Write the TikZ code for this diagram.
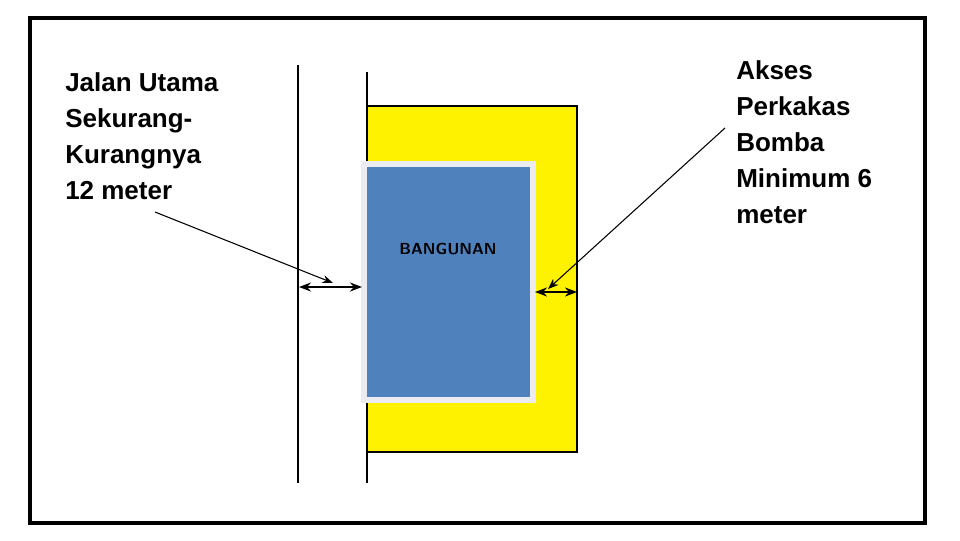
\documentclass[tikz,border=0pt]{standalone}
\usepackage{fontspec}
\setmainfont{Liberation Sans}
\usetikzlibrary{arrows.meta}
\begin{document}
\begin{tikzpicture}[x=0.75pt,y=-0.75pt,
  lbl/.style={font=\bfseries\fontsize{19.5}{27}\selectfont,align=left,inner sep=0pt},
  dim/.style={{Stealth[length=9pt]}-{Stealth[length=9pt]},line width=1.5pt},
  lead/.style={-{Stealth[length=8pt]},line width=0.8pt}]
\useasboundingbox (0,0) rectangle (960,540);
\fill[white] (0,0) rectangle (960,540);
\draw[line width=3.5pt] (30,18) rectangle (925,523);
\draw[fill=yellow,line width=1pt] (367,106) rectangle (577,452);
\draw[line width=1pt] (298,65) -- (298,483);
\draw[line width=1pt] (367,72) -- (367,483);
\draw[fill={rgb,255:red,79;green,129;blue,189},draw={rgb,255:red,235;green,235;blue,240},line width=4pt] (364,164) rectangle (533,400);
\node[font=\bfseries\sffamily\fontsize{12}{14}\selectfont] (b) at (448,249) {BANGUNAN};
\coordinate (l1) at (299,287); \coordinate (l2) at (362,287);
\draw[dim] (l1) -- (l2);
\coordinate (r1) at (535,292); \coordinate (r2) at (577,292);
\draw[dim] (r1) -- (r2);
\node[lbl,anchor=north west] (lt) at (65,72) {Jalan Utama\\Sekurang-\\Kurangnya\\12 meter};
\node[lbl,anchor=north west] (rt) at (736,60) {Akses\\Perkakas\\Bomba\\Minimum 6\\meter};
\coordinate (la) at (155,212); \coordinate (lb) at (333,283);
\draw[lead] (la) -- (lb);
\coordinate (ra) at (725,128); \coordinate (rb) at (548,289);
\draw[lead] (ra) -- (rb);
\end{tikzpicture}
\end{document}
